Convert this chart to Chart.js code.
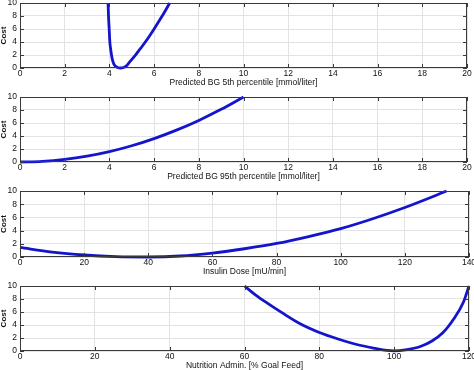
<!DOCTYPE html>
<html>
<head>
<meta charset="utf-8">
<script src="https://cdn.jsdelivr.net/npm/chart.js@4/dist/chart.umd.min.js"></script>
<style>
  html, body { margin: 0; padding: 0; background: #fff; overflow: hidden; }
  body { width: 474px; height: 370px; position: relative; }
  .panel { position: absolute; left: 0; width: 474px; }
</style>
</head>
<body>
<div class="panel" id="p1" style="top:0px;height:88px"><canvas id="c1"></canvas></div>
<div class="panel" id="p2" style="top:91px;height:91px"><canvas id="c2"></canvas></div>
<div class="panel" id="p3" style="top:185px;height:92px"><canvas id="c3"></canvas></div>
<div class="panel" id="p4" style="top:280px;height:91px"><canvas id="c4"></canvas></div>
<script>
// values
const bgLowX = [3.94, 3.96, 3.99, 4.02, 4.06, 4.12, 4.2, 4.3, 4.4, 4.5, 4.6, 4.75, 4.9, 5.1, 5.3, 5.5, 5.75, 6.0, 6.2, 6.45, 6.7];
const bgLowY = [10, 8, 6, 4, 2.8, 1.5, 0.6, 0.2, 0.04, 0, 0.04, 0.3, 0.9, 1.7, 2.6, 3.5, 4.7, 6.0, 7.1, 8.5, 10];

const bgHighX = [0, 1, 2, 3, 4, 5, 6, 7, 8, 9, 10];
const bgHighY = [0, 0.1, 0.4, 0.9, 1.6, 2.5, 3.6, 4.9, 6.4, 8.1, 10];

const insulinX = [0, 10, 20, 30, 40, 50, 60, 70, 80, 90, 100, 110, 120, 130, 133];
const insulinY = [1.45, 0.75, 0.3, 0.05, 0, 0.15, 0.6, 1.25, 2.05, 3.1, 4.3, 5.8, 7.5, 9.4, 10];

const nutritionX = [60, 63, 66, 70, 75, 80, 85, 90, 95, 98, 100, 103, 107, 110, 113, 116, 118.5, 120];
const nutritionY = [10, 8.6, 7.4, 5.9, 4.15, 2.85, 1.85, 1.0, 0.4, 0.1, 0.03, 0.18, 0.7, 1.5, 2.8, 5, 7.5, 10];

const costTicks = [0, 2, 4, 6, 8, 10];

const FONT = 'Liberation Sans, Arial, sans-serif';

// box round the plot and little inward tick marks, matlab style
const boxPlugin = {
    id: 'box',
    afterDraw(chart) {
        const ctx = chart.ctx;
        const a = chart.chartArea;
        const xs = chart.scales.x, ys = chart.scales.y;
        ctx.save();
        ctx.strokeStyle = '#3a3a3a';
        ctx.lineWidth = 1;
        ctx.strokeRect(Math.round(a.left) + 0.5, Math.round(a.top) + 0.5,
            Math.round(a.right - a.left) - 1, Math.round(a.bottom - a.top) - 1);
        ctx.beginPath();
        xs.ticks.forEach(t => {
            const px = Math.round(xs.getPixelForValue(t.value)) + 0.5;
            ctx.moveTo(px, a.bottom); ctx.lineTo(px, a.bottom - 4);
            ctx.moveTo(px, a.top); ctx.lineTo(px, a.top + 4);
        });
        ys.ticks.forEach(t => {
            const py = Math.round(ys.getPixelForValue(t.value)) + 0.5;
            ctx.moveTo(a.left, py); ctx.lineTo(a.left + 4, py);
            ctx.moveTo(a.right, py); ctx.lineTo(a.right - 4, py);
        });
        ctx.stroke();
        ctx.restore();
    }
};

function makePanel(id, xs, ys, xMax, xStep, xTitle, rightPad, topPad) {
    const pts = xs.map((x, i) => ({ x: x, y: ys[i] }));
    return new Chart(document.getElementById(id), {
        type: 'scatter',
        data: {
            datasets: [{
                data: pts,
                showLine: true,
                borderColor: '#1414cc',
                borderWidth: 2.8,
                pointRadius: 0,
                cubicInterpolationMode: 'monotone',
                clip: 2
            }]
        },
        options: {
            responsive: true,
            maintainAspectRatio: false,
            animation: false,
            events: [],
            layout: { padding: { top: topPad, right: rightPad, bottom: 0, left: 0 } },
            plugins: { legend: { display: false }, tooltip: { enabled: false } },
            scales: {
                x: {
                    type: 'linear',
                    min: 0,
                    max: xMax,
                    ticks: {
                        stepSize: xStep,
                        padding: 1,
                        autoSkip: false,
                        color: '#111',
                        font: { family: FONT, size: 8.5 },
                        maxRotation: 0
                    },
                    grid: { color: '#e3e3e3', drawTicks: false },
                    border: { display: false },
                    title: {
                        display: true,
                        text: xTitle,
                        color: '#111',
                        font: { family: FONT, size: 8.5 },
                        padding: 0
                    },
                    afterFit(s) { s.height = 20; s.paddingLeft = 0; s.paddingRight = 0; }
                },
                y: {
                    min: 0,
                    max: 10,
                    afterBuildTicks(s) { s.ticks = costTicks.map(v => ({ value: v })); },
                    ticks: {
                        padding: 3,
                        autoSkip: false,
                        color: '#111',
                        font: { family: FONT, size: 8.5 }
                    },
                    grid: { color: '#e3e3e3', drawTicks: false },
                    border: { display: false },
                    title: {
                        display: true,
                        text: 'Cost',
                        color: '#111',
                        font: { family: FONT, size: 8, weight: 'bold' },
                        padding: { top: -1, bottom: 0 }
                    },
                    afterFit(s) { s.width = 20; s.paddingTop = 0; s.paddingBottom = 0; }
                }
            }
        },
        plugins: [boxPlugin]
    });
}

makePanel('c1', bgLowX, bgLowY, 20, 2, 'Predicted BG 5th percentile [mmol/liter]', 7, 3);
makePanel('c2', bgHighX, bgHighY, 20, 2, 'Predicted BG 95th percentile [mmol/liter]', 7, 6);
makePanel('c3', insulinX, insulinY, 140, 20, 'Insulin Dose [mU/min]', 5, 6);
makePanel('c4', nutritionX, nutritionY, 120, 20, 'Nutrition Admin. [% Goal Feed]', 5, 6);
</script>
</body>
</html>
